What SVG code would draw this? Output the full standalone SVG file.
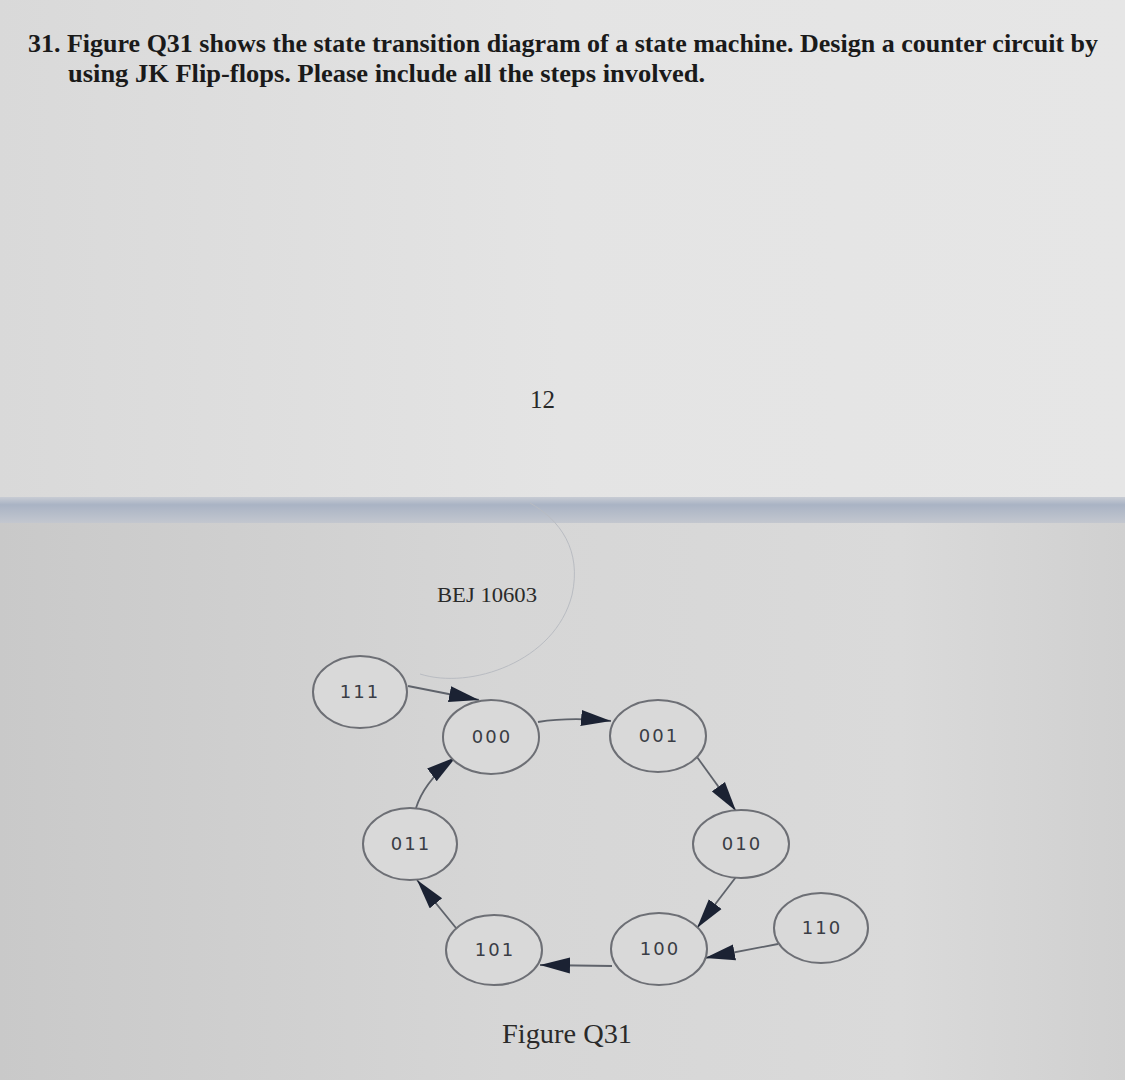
<svg xmlns="http://www.w3.org/2000/svg" width="1125" height="1080" viewBox="0 0 1125 1080">
<defs>
<linearGradient id="bgTop" x1="0" y1="0" x2="1" y2="0">
<stop offset="0" stop-color="#d9d9d9"/>
<stop offset="0.5" stop-color="#e4e4e4"/>
<stop offset="1" stop-color="#e6e6e6"/>
</linearGradient>
<linearGradient id="bgBot" x1="0" y1="0" x2="1" y2="0">
<stop offset="0" stop-color="#c9c9c9"/>
<stop offset="0.45" stop-color="#d6d6d6"/>
<stop offset="0.8" stop-color="#dadada"/>
<stop offset="1" stop-color="#d0d0d0"/>
</linearGradient>
<linearGradient id="band" x1="0" y1="0" x2="0" y2="1">
<stop offset="0" stop-color="#c8ccd4"/>
<stop offset="0.3" stop-color="#a9b3c4"/>
<stop offset="1" stop-color="#c3c7cf"/>
</linearGradient>
<marker id="arr" markerUnits="userSpaceOnUse" markerWidth="32" markerHeight="18" refX="30" refY="9" orient="auto">
<path d="M0,1 L30,9 L0,17 Z" fill="#1b2233"/>
</marker>
<style>
.title{font-family:"Liberation Serif","Times New Roman",serif;font-weight:bold;font-size:26px;fill:#1a1a1a}
.serif{font-family:"Liberation Serif","Times New Roman",serif;fill:#2a2a2a}
.node ellipse{fill:#d9d9d9;stroke:#6d6f75;stroke-width:2}
.node text{font-family:"DejaVu Sans","Liberation Sans",sans-serif;font-size:18px;letter-spacing:2px;fill:#3a3d45;text-anchor:middle}
.edge{fill:none;stroke:#5f636b;stroke-width:1.8;marker-end:url(#arr)}
</style>
</defs>
<rect x="0" y="0" width="1125" height="497" fill="url(#bgTop)"/>
<rect x="0" y="497" width="1125" height="26" fill="url(#band)"/>
<rect x="0" y="523" width="1125" height="557" fill="url(#bgBot)"/>

<text class="title" x="28" y="52" textLength="1070" lengthAdjust="spacingAndGlyphs">31. Figure Q31 shows the state transition diagram of a state machine. Design a counter circuit by</text>
<text class="title" x="68" y="82" textLength="637" lengthAdjust="spacingAndGlyphs">using JK Flip-flops. Please include all the steps involved.</text>
<text class="serif" x="530" y="408" font-size="25">12</text>
<text class="serif" x="437" y="602" font-size="20" textLength="100" lengthAdjust="spacingAndGlyphs">BEJ 10603</text>

<path d="M420,674 C470,690 555,662 572,595 C582,550 560,520 530,503" fill="none" stroke="#b9bcc2" stroke-width="1"/>

<g id="connectors">
<path class="edge" d="M408,686 L479,700"/>
<path class="edge" d="M538,722 Q570,717 611,721"/>
<path class="edge" d="M697,757 L736,811"/>
<path class="edge" d="M736,877 L697,928"/>
<path class="edge" d="M778,944 L705,958"/>
<path class="edge" d="M612,966 L540,965"/>
<path class="edge" d="M456,928 L417,880"/>
<path class="edge" d="M416,808 Q425,780 456,757"/>
</g>

<g id="node-111" class="node"><ellipse cx="360" cy="692" rx="47" ry="36"/><text x="360" y="698">111</text></g>
<g id="node-000" class="node"><ellipse cx="491" cy="737" rx="48" ry="37"/><text x="492" y="743">000</text></g>
<g id="node-001" class="node"><ellipse cx="658" cy="736" rx="48" ry="36"/><text x="659" y="742">001</text></g>
<g id="node-010" class="node"><ellipse cx="741" cy="844" rx="48" ry="34"/><text x="742" y="850">010</text></g>
<g id="node-110" class="node"><ellipse cx="821" cy="928" rx="47" ry="35"/><text x="822" y="934">110</text></g>
<g id="node-100" class="node"><ellipse cx="659" cy="949" rx="48" ry="36"/><text x="660" y="955">100</text></g>
<g id="node-101" class="node"><ellipse cx="494" cy="950" rx="48" ry="35"/><text x="495" y="956">101</text></g>
<g id="node-011" class="node"><ellipse cx="410" cy="844" rx="47" ry="36"/><text x="411" y="850">011</text></g>

<text class="serif" x="502" y="1043" font-size="28" textLength="130" lengthAdjust="spacingAndGlyphs">Figure Q31</text>
</svg>
